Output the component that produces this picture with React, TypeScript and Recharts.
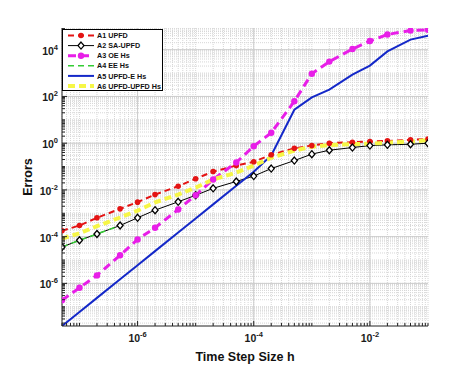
import { CartesianGrid, Line, LineChart, XAxis, YAxis } from "recharts";

// step sizes h
const H = [
  5e-8, 1e-7, 2e-7, 5e-7, 1e-6, 2e-6, 5e-6, 1e-5, 2e-5, 5e-5,
  1e-4, 2e-4, 5e-4, 1e-3, 2e-3, 5e-3, 1e-2, 2e-2, 5e-2, 1e-1,
];

const A1 = [1.8e-4, 3.0e-4, 6.4e-4, 1.55e-3, 3.0e-3, 6.3e-3, 1.44e-2, 3.0e-2, 6.1e-2, 0.11, 0.16, 0.32, 0.6, 0.79, 1.0, 1.1, 1.17, 1.25, 1.38, 1.5];
const A2 = [3.6e-5, 7e-5, 1.3e-4, 3e-4, 6.4e-4, 1.36e-3, 3.1e-3, 5.9e-3, 1.17e-2, 2.3e-2, 3.9e-2, 0.082, 0.18, 0.34, 0.5, 0.65, 0.79, 0.85, 0.9, 1.0];
const A3 = [1.9e-7, 6.5e-7, 2.2e-6, 1.6e-5, 7.6e-5, 2.4e-4, 1.45e-3, 5.9e-3, 2.8e-2, 0.15, 0.74, 2.8, 62, 940, 3100, 10700, 23500, 45000, 66000, 71000];
const A4 = [3.6e-5, 7e-5, 1.3e-4, 3e-4];
const A5 = [1.5e-8, 6e-8, 2.4e-7, 1.5e-6, 6e-6, 2.4e-5, 1.5e-4, 6e-4, 2.4e-3, 1.5e-2, 6e-2, 0.3, 27, 91, 195, 850, 2100, 8500, 27000, 40000];
const A6 = [8.3e-5, 1.4e-4, 2.8e-4, 6.6e-4, 1.3e-3, 2.9e-3, 6.3e-3, 1.26e-2, 2.8e-2, 5.5e-2, 0.11, 0.24, 0.48, 0.71, 0.83, 0.91, 0.95, 1.06, 1.17, 1.35];

const X_MAJOR = [1e-6, 1e-4, 1e-2];
const Y_MAJOR = [1e-6, 1e-4, 1e-2, 1, 1e2, 1e4];
const X_DOMAIN = [5e-8, 0.1];
const Y_DOMAIN = [1.5e-8, 8.5e4];

const LEGEND = [
  { name: "A1 UPFD", color: "#e41414", width: 2, dash: "6 4", marker: "dot" },
  { name: "A2 SA-UPFD", color: "#000000", width: 1, dash: undefined, marker: "diamond" },
  { name: "A3 OE Hs", color: "#e81ee8", width: 3, dash: "8 5", marker: "dot" },
  { name: "A4 EE Hs", color: "#33cc33", width: 1.5, dash: "6 4", marker: "none" },
  { name: "A5 UPFD-E Hs", color: "#1428c8", width: 2, dash: undefined, marker: "none" },
  { name: "A6 UPFD-UPFD Hs", color: "#f6f646", width: 4, dash: "7 4", marker: "none" },
];

const FONT = "'Liberation Sans', Arial, sans-serif";

const data = H.map((h, i) => ({
  h,
  a1: A1[i],
  a2: A2[i],
  a3: A3[i],
  a4: i < A4.length ? A4[i] : null,
  a5: A5[i],
  a6: A6[i],
}));

// axis tick positions (major + minor, log axis)
function logTicks(lo: number, hi: number) {
  const out: number[] = [];
  for (let n = -9; n <= 5; n++) {
    for (let k = 1; k <= 9; k++) {
      const v = parseFloat((k * Math.pow(10, n)).toPrecision(3));
      if (v >= lo * 0.999 && v <= hi * 1.001) out.push(v);
    }
  }
  return out;
}
const X_TICKS = logTicks(X_DOMAIN[0], X_DOMAIN[1]);
const Y_TICKS = logTicks(Y_DOMAIN[0], Y_DOMAIN[1]);

const isMajor = (v: number, list: number[]) => list.some((m) => Math.abs(v / m - 1) < 1e-6);
const expOf = (v: number) => String(Math.round(Math.log10(v)));

function PowLabel({ x, y, v, anchor }: { x: number; y: number; v: number; anchor: string }) {
  return (
    <text x={x} y={y} textAnchor={anchor} fontFamily={FONT} fontWeight="bold" fontSize={10.5} fill="#1a1a1a">
      <tspan>10</tspan>
      <tspan dy={-5} fontSize={7.5}>{expOf(v)}</tspan>
    </text>
  );
}

function BottomTick(props: any) {
  const { x, y, payload } = props;
  const major = isMajor(payload.value, X_MAJOR);
  return (
    <g>
      <line x1={x} y1={y} x2={x} y2={y - (major ? 5 : 3)} stroke="#222" />
      {major && <PowLabel x={x} y={y + 16} v={payload.value} anchor="middle" />}
    </g>
  );
}
function TopTick(props: any) {
  const { x, y, payload } = props;
  const major = isMajor(payload.value, X_MAJOR);
  return <line x1={x} y1={y} x2={x} y2={y + (major ? 5 : 3)} stroke="#222" />;
}
function LeftTick(props: any) {
  const { x, y, payload } = props;
  const major = isMajor(payload.value, Y_MAJOR);
  return (
    <g>
      <line x1={x} y1={y} x2={x + (major ? 5 : 3)} y2={y} stroke="#222" />
      {major && <PowLabel x={x - 4} y={y + 5} v={payload.value} anchor="end" />}
    </g>
  );
}
function RightTick(props: any) {
  const { x, y, payload } = props;
  const major = isMajor(payload.value, Y_MAJOR);
  return <line x1={x} y1={y} x2={x - (major ? 5 : 3)} y2={y} stroke="#222" />;
}

function Marker({ type, cx, cy, color }: { type: string; cx: number; cy: number; color: string }) {
  if (cx == null || cy == null || isNaN(cy)) return null;
  if (type === "diamond") {
    return (
      <path
        d={`M${cx},${cy - 3.5}L${cx + 3},${cy}L${cx},${cy + 3.5}L${cx - 3},${cy}Z`}
        fill="#fff"
        stroke={color}
        strokeWidth={1.3}
      />
    );
  }
  if (type === "dot") return <circle cx={cx} cy={cy} r={color === "#e81ee8" ? 3.2 : 2.8} fill={color} />;
  return null;
}

function makeDot(type: string, color: string) {
  if (type === "none") return false;
  return (p: any) => <Marker key={p.key ?? `${p.index}`} type={type} cx={p.cx} cy={p.cy} color={color} />;
}

function Legend() {
  return (
    <svg
      width={101}
      height={62}
      style={{ position: "absolute", left: 62, top: 29, background: "#fff" }}
    >
      <rect x={0.5} y={0.5} width={100} height={61} fill="#fff" stroke="#000" />
      {LEGEND.map((s, i) => {
        const y = 6.5 + i * 10.1;
        return (
          <g key={s.name}>
            <line x1={6} y1={y} x2={32} y2={y} stroke={s.color} strokeWidth={s.width} strokeDasharray={s.dash} />
            <Marker type={s.marker} cx={19} cy={y} color={s.color} />
            <text x={35} y={y + 2.6} fontFamily={FONT} fontWeight="bold" fontSize={7.2} fill="#111">
              {s.name}
            </text>
          </g>
        );
      })}
    </svg>
  );
}

const KEYS = ["a1", "a2", "a3", "a4", "a5", "a6"];

export default function App() {
  return (
    <div style={{ position: "absolute", left: 0, top: 0, width: 474, height: 367, background: "#fff" }}>
      <LineChart width={474} height={367} data={data} margin={{ top: 28, right: 46, bottom: 0, left: 0 }}>
        <CartesianGrid stroke="#d6d6d6" strokeDasharray="1 1" verticalValues={X_TICKS} horizontalValues={Y_TICKS} />
        <CartesianGrid stroke="#cccccc" verticalValues={X_MAJOR} horizontalValues={Y_MAJOR} />
        <XAxis
          dataKey="h"
          type="number"
          scale="log"
          domain={X_DOMAIN}
          allowDataOverflow
          ticks={X_TICKS}
          interval={0}
          height={41}
          tickSize={0}
          tickMargin={0}
          tickLine={false}
          tick={BottomTick}
          axisLine={{ stroke: "#222" }}
          label={{
            value: "Time Step Size h",
            position: "insideBottom",
            offset: 6,
            style: { fontFamily: FONT, fontWeight: "bold", fontSize: 12.5, fill: "#111" },
          }}
        />
        <XAxis
          xAxisId="top"
          dataKey="h"
          type="number"
          scale="log"
          orientation="top"
          domain={X_DOMAIN}
          allowDataOverflow
          ticks={X_TICKS}
          interval={0}
          height={0}
          tickSize={0}
          tickMargin={0}
          tickLine={false}
          tick={TopTick}
          axisLine={{ stroke: "#222" }}
        />
        <YAxis
          type="number"
          scale="log"
          domain={Y_DOMAIN}
          allowDataOverflow
          ticks={Y_TICKS}
          interval={0}
          width={62}
          tickSize={0}
          tickMargin={0}
          tickLine={false}
          tick={LeftTick}
          axisLine={{ stroke: "#222" }}
          label={{
            value: "Errors",
            angle: -90,
            position: "insideLeft",
            offset: 28,
            style: { textAnchor: "middle", fontFamily: FONT, fontWeight: "bold", fontSize: 12.5, fill: "#111" },
          }}
        />
        <YAxis
          yAxisId="right"
          type="number"
          scale="log"
          orientation="right"
          domain={Y_DOMAIN}
          allowDataOverflow
          ticks={Y_TICKS}
          interval={0}
          width={0}
          tickSize={0}
          tickMargin={0}
          tickLine={false}
          tick={RightTick}
          axisLine={{ stroke: "#222" }}
        />
        {LEGEND.map((s, i) => (
          <Line
            key={s.name}
            dataKey={KEYS[i]}
            name={s.name}
            stroke={s.color}
            strokeWidth={s.width}
            strokeDasharray={s.dash}
            dot={makeDot(s.marker, s.color)}
            activeDot={false}
            isAnimationActive={false}
            connectNulls={false}
            type="linear"
          />
        ))}
      </LineChart>
      <Legend />
    </div>
  );
}
